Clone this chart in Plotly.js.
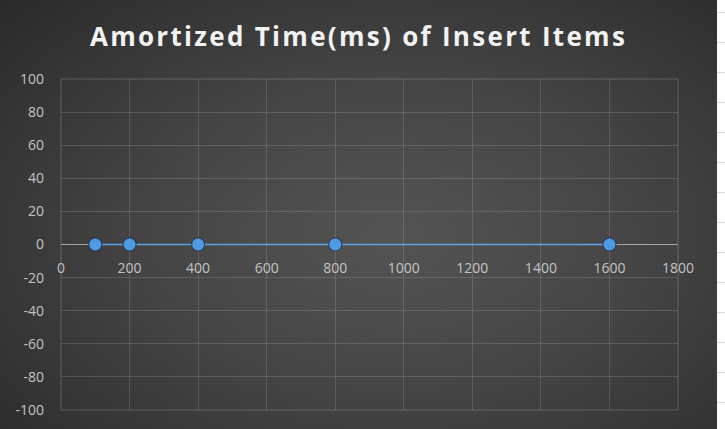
<!DOCTYPE html>
<html>
<head>
<meta charset="utf-8">
<script src="https://cdn.plot.ly/plotly-3.0.1.min.js"></script>
<style>
  html, body { margin:0; padding:0; width:725px; height:429px; overflow:hidden;
    background:#ffffff repeating-linear-gradient(to bottom, transparent 0px, transparent 12px, #d9d9d9 12px, #d9d9d9 13px, transparent 13px, transparent 30px); }
  #chart { position:absolute; left:0; top:0; width:717px; height:429px;
    background: radial-gradient(ellipse 75% 80% at 55% 55%, #545454 0%, #454545 45%, #2a2a2a 100%); }
  #chart .gtitle { letter-spacing: 2.3px; }
</style>
</head>
<body>
<div id="chart"></div>
<script>
const titleText = "Amortized Time(ms) of Insert Items";
const itemCounts = [100, 200, 400, 800, 1600];
const amortizedMs = [0.02, 0.02, 0.02, 0.02, 0.02];
const xTicks = [0, 200, 400, 600, 800, 1000, 1200, 1400, 1600, 1800];
const yTicks = [-100, -80, -60, -40, -20, 0, 20, 40, 60, 80, 100];

const trace = {
  x: itemCounts, y: amortizedMs, type: 'scatter', mode: 'lines+markers',
  line: { color: '#5ba3e8', width: 1.5 },
  marker: { color: '#4f9be3', size: 13, line: { color: 'rgba(25,35,55,0.6)', width: 1.2 } },
  hoverinfo: 'x+y'
};

const gridCol = 'rgba(255,255,255,0.14)';

const layout = {
  width: 717, height: 429,
  paper_bgcolor: 'rgba(0,0,0,0)', plot_bgcolor: 'rgba(0,0,0,0)',
  margin: { l: 61, r: 39, t: 79, b: 19 },
  showlegend: false,
  title: { text: '<b>' + titleText + '</b>', x: 0.5, xref: 'container', xanchor: 'center', y: 0.913, yanchor: 'middle',
    font: { family: 'Open Sans, sans-serif', size: 26, color: '#f2f2f2' } },
  xaxis: {
    range: [0, 1800], tickvals: xTicks, ticktext: xTicks.map(String),
    anchor: 'free', position: 0.5,
    showgrid: true, gridcolor: gridCol, gridwidth: 1,
    zeroline: false, showline: false, ticks: '',
    ticklabelstandoff: 13,
    tickfont: { family: 'Open Sans, sans-serif', size: 14, color: '#c4c4c4' }
  },
  yaxis: {
    range: [-100, 100], tickvals: yTicks, ticktext: yTicks.map(String),
    showgrid: true, gridcolor: gridCol, gridwidth: 1,
    zeroline: true, zerolinecolor: '#a6a6a6', zerolinewidth: 1.5,
    showline: false, ticks: '', ticklabelstandoff: 16,
    tickfont: { family: 'Open Sans, sans-serif', size: 14, color: '#c4c4c4' }
  },
  shapes: [
    { type: 'rect', xref: 'paper', yref: 'paper', x0: 0, x1: 1, y0: 0, y1: 1,
      line: { color: 'rgba(255,255,255,0.2)', width: 1 }, fillcolor: 'rgba(0,0,0,0)', layer: 'below' }
  ]
};

Plotly.newPlot('chart', [trace], layout, { displayModeBar: false, staticPlot: true });
</script>
</body>
</html>
